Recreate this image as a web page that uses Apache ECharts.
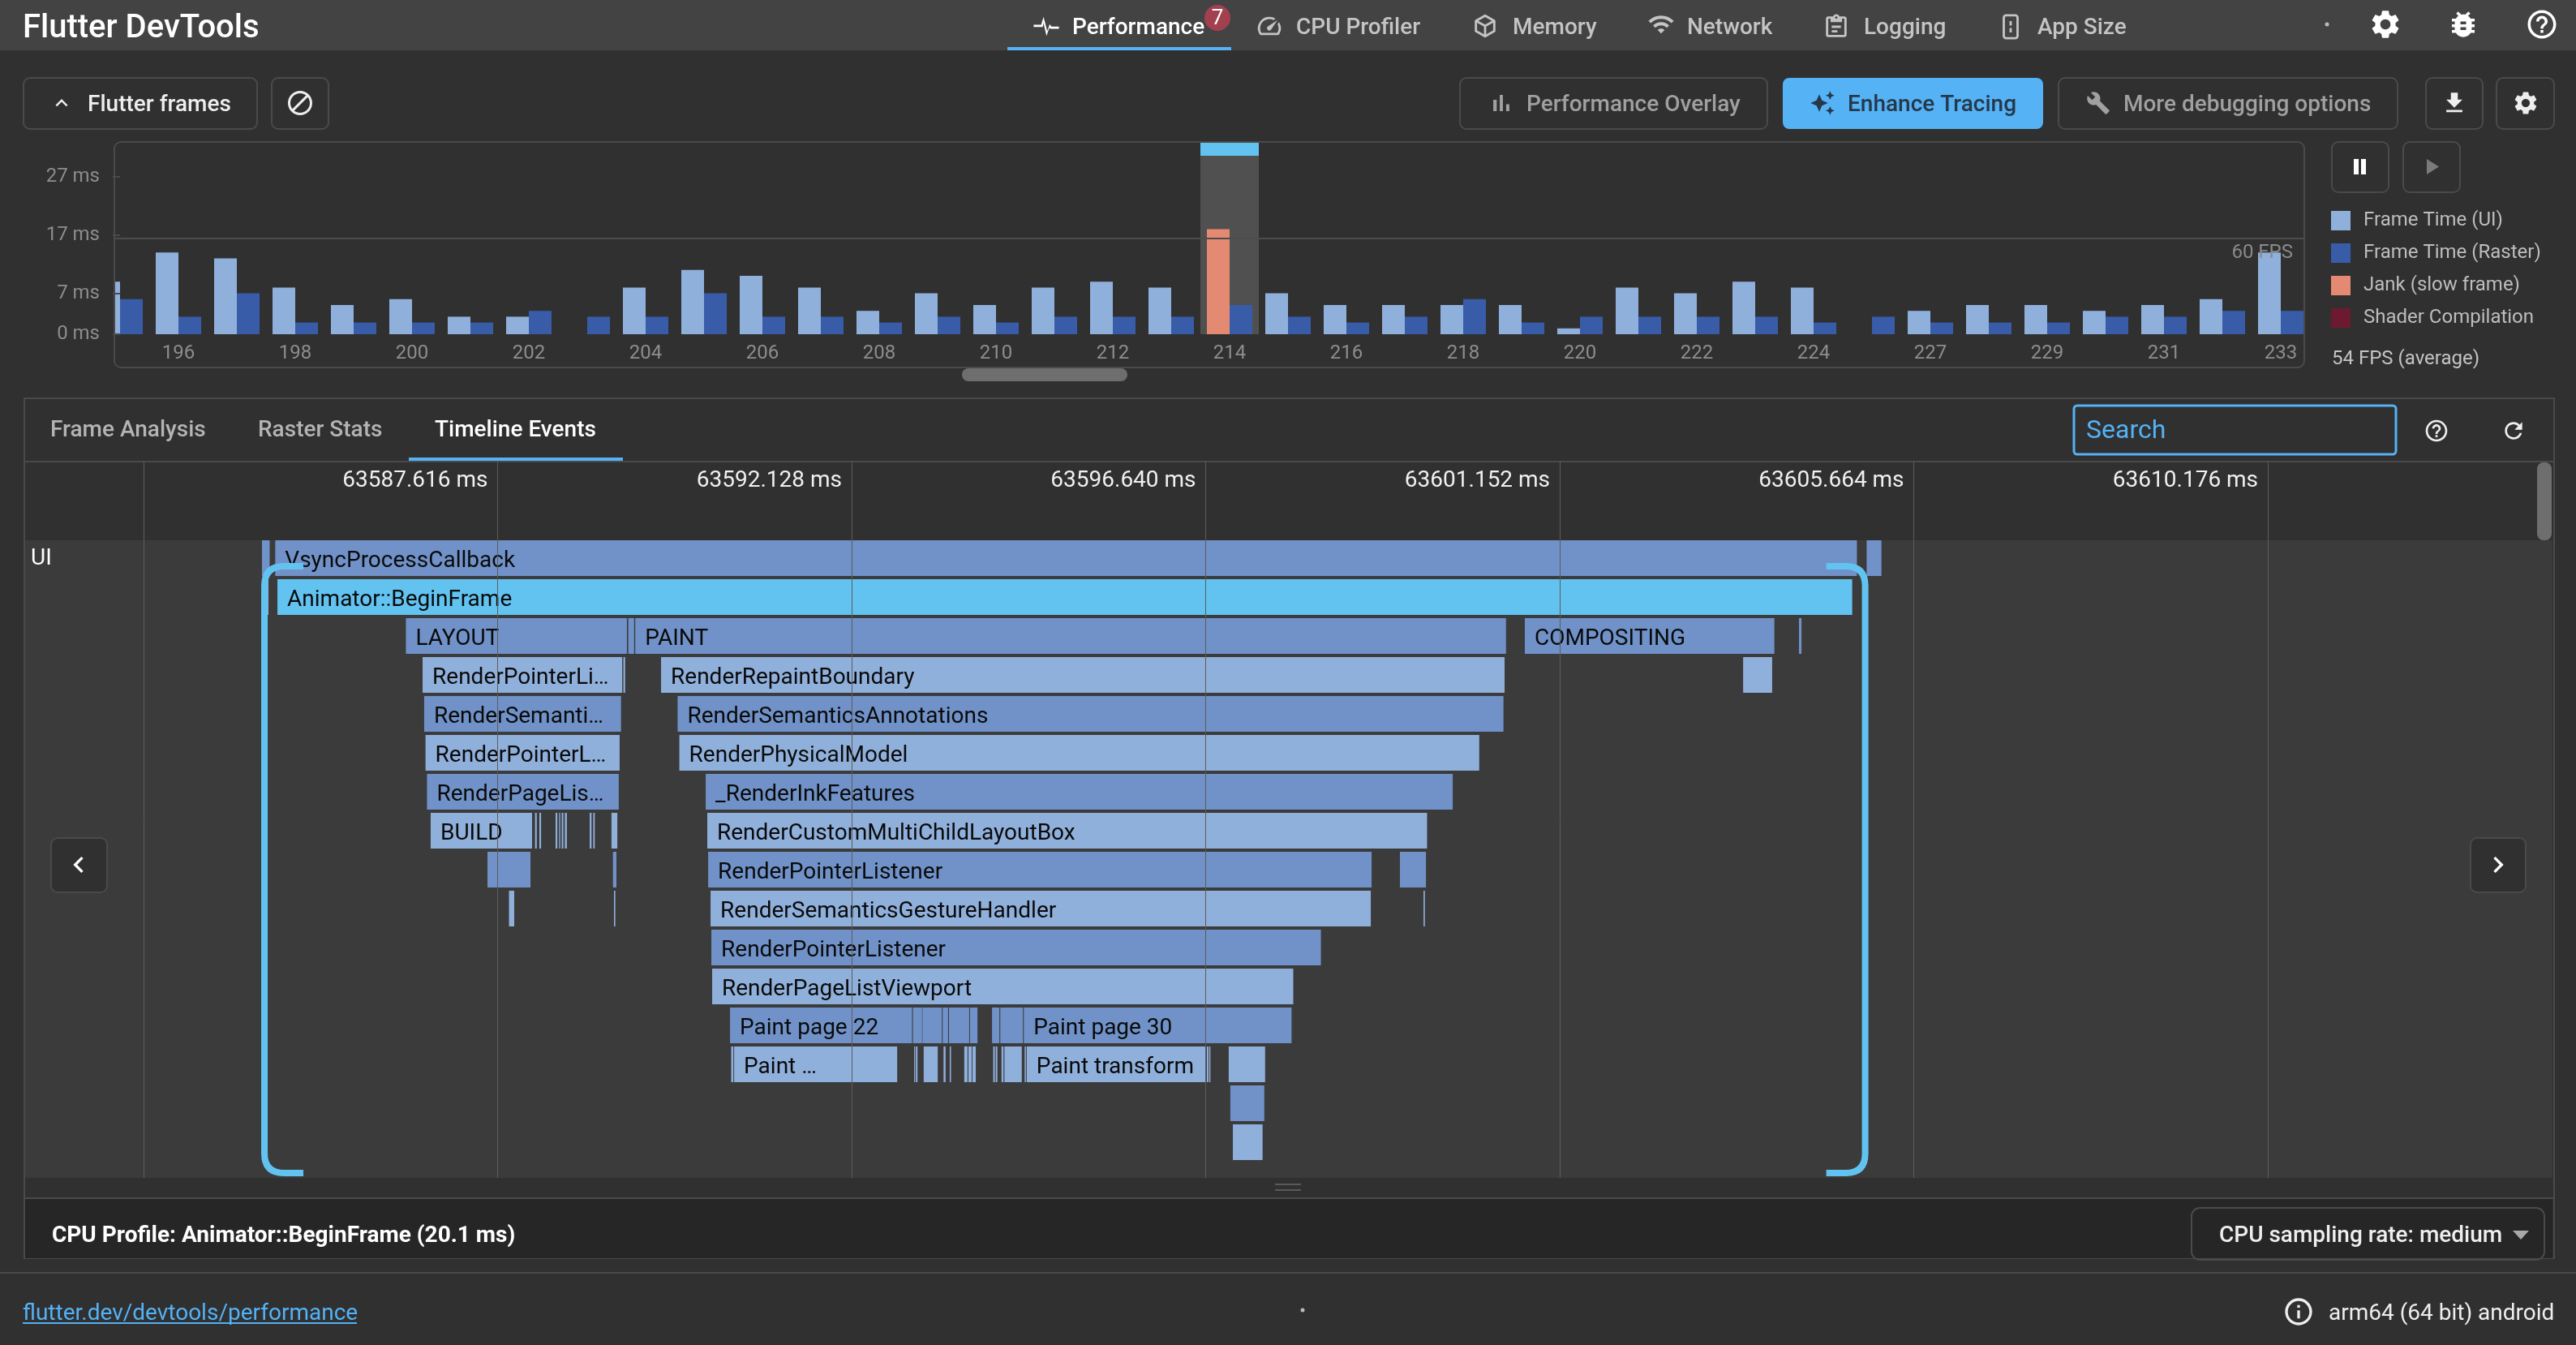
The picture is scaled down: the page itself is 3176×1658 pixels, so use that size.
<!DOCTYPE html>
<html><head><meta charset="utf-8"><title>Flutter DevTools</title>
<style>html,body{margin:0;padding:0;background:#303030}#c{width:3176px;height:1658px}</style>
<script src="https://cdn.jsdelivr.net/npm/echarts@6/dist/echarts.min.js"></script>
</head><body><div id="c"></div><script>
// ---------- frame chart data ----------
const frameNumbers = [195,196,197,198,199,200,201,202,203,204,205,206,207,208,209,210,211,212,213,214,215,216,217,218,219,220,221,222,223,224,226,227,228,229,230,231,232,233];
const uiMs         = [9,14,13,8,5,6,3,3,0,8,11,10,8,4,7,5,8,9,8,0,7,5,5,5,5,1,8,7,9,8,0,4,5,5,4,5,6,14];
const rasterMs     = [6,3,7,2,2,2,2,4,3,3,7,3,3,2,3,2,3,3,3,5,3,2,3,6,2,3,3,3,3,2,3,2,2,2,3,3,4,4];
const jankFrame = 214;
const jankMs = 18;
const yTickMs = [0,7,17,27];
const sixtyFpsLineMs = 16.4;
// ---------- timeline data (ms after timeOriginMs) ----------
const timeOriginMs = 63583.104;
const timeTickMs = 4.512;
const eventNames = [
 '','VsyncProcessCallback','',
 '','Animator::BeginFrame',
 'LAYOUT','','PAINT','COMPOSITING','',
 'RenderPointerLi…','','RenderRepaintBoundary','',
 'RenderSemanti…','RenderSemanticsAnnotations',
 'RenderPointerL…','RenderPhysicalModel',
 'RenderPageLis…','_RenderInkFeatures',
 'BUILD','','','','','','','','','','RenderCustomMultiChildLayoutBox',
 '','','RenderPointerListener','',
 '','','RenderSemanticsGestureHandler','',
 'RenderPointerListener',
 'RenderPageListViewport',
 'Paint page 22','','','','','','','','Paint page 30',
 '','Paint …','','','','','','','','','','','','','','Paint transform','','','',
 '',
 '' ];
const eventStart = [
 1.509,1.678,21.959,
 1.509,1.706,
 3.343,6.177,6.266,17.603,21.097,
 3.556,6.115,6.595,20.385,
 3.576,6.806,
 3.593,6.828,
 3.612,7.164,
 3.659,4.989,5.044,5.251,5.296,5.329,5.369,5.686,5.731,5.963,7.184,
 4.383,5.982,7.195,16.011,
 4.657,5.995,7.226,16.312,
 7.236,
 7.246,
 7.474,9.805,9.926,10.184,10.264,10.532,10.813,10.918,11.218,
 7.489,7.526,9.820,9.842,9.942,10.195,10.274,10.459,10.512,10.564,10.828,10.860,10.934,10.971,11.229,11.255,13.550,13.581,13.829,
 13.850,13.882 ];
const eventEnd = [
 1.607,21.835,22.148,
 1.592,21.775,
 6.160,6.252,17.363,20.783,21.129,
 6.100,6.137,17.345,20.755,
 6.085,17.331,
 6.067,17.022,
 6.056,16.684,
 4.951,5.011,5.066,5.273,5.310,5.350,5.395,5.709,5.750,6.038,16.357,
 4.931,6.026,15.650,16.343,
 4.724,6.012,15.640,16.329,
 15.004,
 14.652,
 9.794,9.921,10.174,10.253,10.522,10.628,10.907,11.207,14.630,
 7.516,9.604,9.832,9.863,10.121,10.221,10.290,10.501,10.554,10.606,10.849,10.881,10.959,11.192,11.245,13.534,13.571,13.596,14.293,
 14.283,14.261 ];
const eventRow = [
 0,0,0,
 1,1,
 2,2,2,2,2,
 3,3,3,3,
 4,4,
 5,5,
 6,6,
 7,7,7,7,7,7,7,7,7,7,7,
 8,8,8,8,
 9,9,9,9,
 10,
 11,
 12,12,12,12,12,12,12,12,12,
 13,13,13,13,13,13,13,13,13,13,13,13,13,13,13,13,13,13,13,
 14,15 ];
const selectedEvent = 'Animator::BeginFrame';
const timeAxisEndMs = 30.72;

const FONT = 'Roboto';
const C = {bg:'#303030', bar:'#434343', flame:'#3b3b3b', line:'#4a4a4a', blue:'#54b2f5', sel:'#62c3f1',
  mid:'#7092c8', light:'#90b0dc', ui:'#90b0dc', raster:'#395ca8', jank:'#e58a72', shader:'#6d1a30',
  dim:'#8d8d8d', nav:'#c4c4c4', btn:'#a0a0a0'};

const ICONS = {
 gear:'M19.14 12.94c.04-.3.06-.61.06-.94 0-.32-.02-.64-.07-.94l2.03-1.58c.18-.14.23-.41.12-.61l-1.92-3.32c-.12-.22-.37-.29-.59-.22l-2.39.96c-.5-.38-1.03-.7-1.62-.94l-.36-2.54c-.04-.24-.24-.41-.48-.41h-3.84c-.24 0-.43.17-.47.41l-.36 2.54c-.59.24-1.13.57-1.62.94l-2.39-.96c-.22-.08-.47 0-.59.22L2.74 8.87c-.12.21-.08.47.12.61l2.03 1.58c-.05.3-.09.63-.09.94s.02.64.07.94l-2.03 1.58c-.18.14-.23.41-.12.61l1.92 3.32c.12.22.37.29.59.22l2.39-.96c.5.38 1.03.7 1.62.94l.36 2.54c.05.24.24.41.48.41h3.84c.24 0 .44-.17.47-.41l.36-2.54c.59-.24 1.13-.56 1.62-.94l2.39.96c.22.08.47 0 .59-.22l1.92-3.32c.12-.22.07-.47-.12-.61l-2.01-1.58zM12 15.6c-1.98 0-3.6-1.62-3.6-3.6s1.62-3.6 3.6-3.6 3.6 1.62 3.6 3.6-1.62 3.6-3.6 3.6z',
 bug:'M20 8h-2.81c-.45-.78-1.07-1.45-1.82-1.96L17 4.41 15.59 3l-2.17 2.17C12.96 5.06 12.49 5 12 5c-.49 0-.96.06-1.41.17L8.41 3 7 4.41l1.62 1.63C7.88 6.55 7.26 7.22 6.81 8H4v2h2.09c-.05.33-.09.66-.09 1v1H4v2h2v1c0 .34.04.67.09 1H4v2h2.81c1.04 1.79 2.97 3 5.19 3s4.15-1.21 5.19-3H20v-2h-2.09c.05-.33.09-.66.09-1v-1h2v-2h-2v-1c0-.34-.04-.67-.09-1H20V8zm-6 8h-4v-2h4v2zm0-4h-4v-2h4v2z',
 help:'M11 18h2v-2h-2v2zm1-16C6.48 2 2 6.48 2 12s4.48 10 10 10 10-4.48 10-10S17.52 2 12 2zm0 18c-4.41 0-8-3.59-8-8s3.59-8 8-8 8 3.59 8 8-3.59 8-8 8zm0-14c-2.21 0-4 1.79-4 4h2c0-1.1.9-2 2-2s2 .9 2 2c0 2-3 1.75-3 5h2c0-2.25 3-2.5 3-5 0-2.21-1.79-4-4-4z',
 info:'M11 7h2v2h-2zm0 4h2v6h-2zm1-9C6.48 2 2 6.48 2 12s4.48 10 10 10 10-4.48 10-10S17.52 2 12 2zm0 18c-4.41 0-8-3.59-8-8s3.59-8 8-8 8 3.59 8 8-3.59 8-8 8z',
 download:'M19 9h-4V3H9v6H5l7 7 7-7zM5 18v2h14v-2H5z',
 wrench:'M22.7 19l-9.1-9.1c.9-2.3.4-5-1.5-6.9-2-2-5-2.4-7.4-1.3L9 6 6 9 1.6 4.7C.4 7.1.9 10.1 2.9 12.1c1.9 1.9 4.6 2.4 6.9 1.5l9.1 9.1c.4.4 1 .4 1.4 0l2.3-2.3c.5-.4.5-1.1.1-1.4z',
 refresh:'M17.65 6.35C16.2 4.9 14.21 4 12 4c-4.42 0-7.99 3.58-7.99 8s3.57 8 7.99 8c3.73 0 6.84-2.55 7.73-6h-2.08c-.82 2.33-3.04 4-5.65 4-3.31 0-6-2.69-6-6s2.69-6 6-6c1.66 0 3.14.69 4.22 1.78L13 11h7V4l-2.35 2.35z',
 block:'M12 2C6.48 2 2 6.48 2 12s4.48 10 10 10 10-4.48 10-10S17.52 2 12 2zM4 12c0-4.42 3.58-8 8-8 1.85 0 3.55.63 4.9 1.69L5.69 16.9C4.63 15.55 4 13.85 4 12zm8 8c-1.85 0-3.55-.63-4.9-1.69L18.31 7.1C19.37 8.45 20 10.15 20 12c0 4.42-3.58 8-8 8z',
 bars:'M5 9.2h3V19H5zM10.6 5h2.8v14h-2.8zm5.6 8H19v6h-2.8z',
 sparkle:'M19 9l1.25-2.75L23 5l-2.75-1.25L19 1l-1.25 2.75L15 5l2.75 1.25L19 9zm-7.5.5L9 4 6.5 9.5 1 12l5.5 2.5L9 20l2.5-5.5L17 12l-5.5-2.5zM19 15l-1.25 2.75L15 19l2.75 1.25L19 23l1.25-2.75L23 19l-2.75-1.25L19 15z',
 up:'M7.41 15.41L12 10.83l4.59 4.58L18 14l-6-6-6 6z',
 left:'M15.41 7.41L14 6l-6 6 6 6 1.41-1.41L10.83 12z',
 right:'M10 6L8.59 7.41 13.17 12l-4.58 4.59L10 18l6-6z',
 pulse:'M1 11h6.6L9.6 4l3.2 12.4 2.2-6 1.4 2.2H23v1.8h-7.6l-.7-1-2.5 7.2L9.5 9.4 8.9 12.8H1z',
 speed:'M20.38 8.57l-1.23 1.85a8 8 0 0 1-.22 7.58H5.07A8 8 0 0 1 15.58 6.85l1.85-1.23A10 10 0 0 0 3.35 19a2 2 0 0 0 1.72 1h13.85a2 2 0 0 0 1.74-1 10 10 0 0 0-.27-10.44zm-9.79 6.84a2 2 0 0 0 2.83 0l5.66-8.49-8.49 5.66a2 2 0 0 0 0 2.83z',
 box:'M21 16.5c0 .38-.21.71-.53.88l-7.9 4.44c-.16.12-.36.18-.57.18-.21 0-.41-.06-.57-.18l-7.9-4.44A.991.991 0 0 1 3 16.5v-9c0-.38.21-.71.53-.88l7.9-4.44c.16-.12.36-.18.57-.18.21 0 .41.06.57.18l7.9 4.44c.32.17.53.5.53.88v9zM12 4.15L6.04 7.5 12 10.85l5.96-3.35L12 4.15zM5 15.91l6 3.38v-6.71L5 9.21v6.7zm14 0v-6.7l-6 3.37v6.71l6-3.38z',
 wifi:'M1 9l2 2c4.97-4.97 13.03-4.97 18 0l2-2C16.93 2.93 7.08 2.93 1 9zm8 8l3 3 3-3c-1.65-1.66-4.34-1.66-6 0zm-4-4l2 2c2.76-2.76 7.24-2.76 10 0l2-2C15.14 9.14 8.87 9.14 5 13z',
 clip:'M19 3h-4.18C14.4 1.84 13.3 1 12 1c-1.3 0-2.4.84-2.82 2H5c-1.1 0-2 .9-2 2v14c0 1.1.9 2 2 2h14c1.1 0 2-.9 2-2V5c0-1.1-.9-2-2-2zm-7 0c.55 0 1 .45 1 1s-.45 1-1 1-1-.45-1-1 .45-1 1-1zm7 16H5V5h2v3h10V5h2v14zM8 11h8v2H8zm0 4h5v2H8z',
 phone:'M16 1H8C6.34 1 5 2.34 5 4v16c0 1.66 1.34 3 3 3h8c1.66 0 3-1.34 3-3V4c0-1.66-1.34-3-3-3zm1 19c0 .55-.45 1-1 1H8c-.55 0-1-.45-1-1V4c0-.55.45-1 1-1h8c.55 0 1 .45 1 1v16zM11 7h2v4h-2zm0 6h2v4h-2z'
};
Object.keys(ICONS).forEach(k => echarts.graphic.registerShape('ic_'+k, echarts.graphic.extendPath(ICONS[k])));

function R(x,y,w,h,o){o=o||{};return {type:'rect',silent:true,z:o.z==null?-1:o.z,shape:{x,y,width:w,height:h,r:o.r||0},style:{fill:o.fill||'transparent',stroke:o.stroke||null,lineWidth:o.lw||0}};}
function T(text,x,y,size,color,o){o=o||{};return {type:'text',silent:true,z:o.z==null?20:o.z,x,y:y+size*0.12,style:{text,fill:color,font:(o.weight||400)+' '+size+'px '+FONT,textAlign:o.align||'left',textVerticalAlign:'middle'}};}
function I(name,cx,cy,size,color,z){const s=size/24;return {type:'ic_'+name,silent:true,z:z==null?20:z,x:cx-size/2,y:cy-size/2,scaleX:s,scaleY:s,style:{fill:color}};}
function BTN(x,y,w,h,o){o=o||{};return R(x,y,w,h,{fill:o.fill||'transparent',stroke:C.line,lw:2,r:8,z:o.z==null?-1:o.z});}

const chrome = [
 // top bar
 R(0,0,3176,62,{fill:C.bar}),
 T('Flutter DevTools',28,31,40,'#fff',{weight:500}),
 R(1242,58,276,4,{fill:C.blue}),
 I('pulse',1290,32,34,'#fff'),
 T('Performance',1322,32,28,'#fff',{weight:500}),
 {type:'circle',silent:true,z:21,shape:{cx:1501,cy:22,r:16},style:{fill:'#a3404f'}},
 T('7',1501,20,26,'#fff',{align:'center',z:22}),
 I('speed',1565,32,34,C.nav), T('CPU Profiler',1598,32,28,C.nav,{weight:500}),
 I('box',1831,32,34,C.nav), T('Memory',1865,32,28,C.nav,{weight:500}),
 I('wifi',2048,30,34,C.nav), T('Network',2080,32,28,C.nav,{weight:500}),
 I('clip',2264,33,34,C.nav), T('Logging',2298,32,28,C.nav,{weight:500}),
 I('phone',2479,33,34,C.nav), T('App Size',2512,32,28,C.nav,{weight:500}),
 {type:'circle',silent:true,z:20,shape:{cx:2869,cy:30,r:2.5},style:{fill:'#bbb'}},
 I('gear',2941,30,42,'#fff'), I('bug',3037,30,42,'#fff'), I('help',3134,30,42,'#fff'),
 // toolbar
 BTN(29,96,288,63), I('up',76,127,30,'#eee'), T('Flutter frames',108,127,28,'#eee',{weight:500}),
 BTN(335,96,70,63), I('block',370,127,36,'#eee'),
 BTN(1800,96,379,63), I('bars',1851,127,34,C.btn), T('Performance Overlay',1882,127,28,C.btn,{weight:500}),
 R(2198,96,321,63,{fill:C.blue,r:8}), I('sparkle',2247,127,32,'#26384a'), T('Enhance Tracing',2278,127,28,'#26384a',{weight:500}),
 BTN(2538,96,418,63), I('wrench',2587,127,30,C.btn), T('More debugging options',2618,127,28,C.btn,{weight:500}),
 BTN(2991,96,70,63), I('download',3026,127,34,'#eee'),
 BTN(3078,96,71,63), I('gear',3114,127,34,'#eee'),
 // frame chart frame; the strip left of it hides the part of frame 195 scrolled out of view
 R(100,175,40,238,{fill:C.bg,z:3}),
 R(141,175,2700,278,{stroke:C.line,lw:2,r:8,z:4}),
 R(1186,454,204,16,{fill:'#6e6e6e',r:8}),
 BTN(2875,175,70,62), R(2902,196,6,19,{fill:'#fff',z:20}), R(2911,196,6,19,{fill:'#fff',z:20}),
 BTN(2963,175,70,62), {type:'polygon',silent:true,z:20,shape:{points:[[2992,196],[3007,205.5],[2992,215]]},style:{fill:'#7a7a7a'}},
 T('54 FPS (average)',2875,440,24,'#c4c4c4'),
 // analysis panel
 R(30,491,3119,1060,{stroke:C.line,lw:2}),
 T('Frame Analysis',62,528,28,'#b4b4b4',{weight:500}),
 T('Raster Stats',318,528,28,'#b4b4b4',{weight:500}),
 T('Timeline Events',536,528,28,'#fff',{weight:500}),
 R(504,564,264,4,{fill:C.blue}),
 R(30,568,3119,2,{fill:C.line}),
 R(2557,500,397,60,{stroke:C.blue,lw:3,r:4}),
 T('Search',2572,528,32,C.blue),
 I('help',3004,531,32,'#eee'), I('refresh',3099,531,32,'#eee'),
 // flame area background
 R(31,666,3116,786,{fill:C.flame}),
 R(3128,570,18,96,{fill:'#6e6e6e',r:8,z:20}),
 T('UI',38,686,28,'#fff'),
 BTN(63,1033,69,67,{fill:C.bg,z:20}), I('left',97,1066,40,'#fff',21),
 BTN(3046,1033,68,67,{fill:C.bg,z:20}), I('right',3080,1066,40,'#fff',21),
 R(1572,1459,32,2,{fill:'#5a5a5a'}), R(1572,1466,32,2,{fill:'#5a5a5a'}),
 // cpu profile panel
 R(31,1477,3116,74,{fill:'#262626'}),
 R(30,1476,3119,2,{fill:C.line}),
 T('CPU Profile: Animator::BeginFrame (20.1 ms)',64,1521,28,'#fff',{weight:700}),
 R(2702,1489,435,64,{stroke:C.line,lw:2,r:10}),
 T('CPU sampling rate: medium',2736,1521,28,'#eee',{weight:500}),
 {type:'polygon',silent:true,z:20,shape:{points:[[3098,1517],[3118,1517],[3108,1528]]},style:{fill:'#a8a8a8'}},
 // status bar
 R(0,1568,3176,2,{fill:C.line}),
 T('flutter.dev/devtools/performance',28,1617,28,C.blue),
 R(28,1630,412,2,{fill:C.blue,z:20}),
 {type:'circle',silent:true,z:20,shape:{cx:1606,cy:1615,r:2.5},style:{fill:'#bbb'}},
 I('info',2834,1617,40,'#eee'),
 T('arm64 (64 bit) android',2871,1617,28,'#eee',{weight:400})
];

const jankIndex = frameNumbers.indexOf(jankFrame);
const pairs = arr => arr.map((v,i)=>[i,v]);

function renderEvent(params, api){
  const a=api.coord([api.value(0),api.value(2)]), b=api.coord([api.value(1),api.value(2)]);
  const name=eventNames[params.dataIndex], row=api.value(2);
  const pitch=api.size([0,1])[1];
  const fill = name===selectedEvent ? C.sel : (row%2 ? C.light : C.mid);
  const kids=[{type:'rect',shape:{x:a[0],y:a[1],width:b[0]-a[0],height:pitch-4},style:{fill}}];
  if(name) kids.push({type:'text',x:a[0]+12,y:a[1]+(pitch-4)/2+3.5,style:{text:name,fill:'#0a0a0a',font:'400 28px '+FONT,textAlign:'left',textVerticalAlign:'middle'}});
  return {type:'group',children:kids};
}
function renderBracket(params, api){
  const row=api.value(2), L=api.coord([api.value(0),row])[0]-16, Rt=api.coord([api.value(1),row])[0]+16;
  const T0=api.coord([api.value(0),0])[1]+32, B=params.coordSys.y+params.coordSys.height-6, arm=48, r=24;
  const style={fill:'none',stroke:C.sel,lineWidth:8};
  return {type:'group',children:[
    {type:'path',shape:{pathData:`M${L+arm} ${T0}H${L+r}Q${L} ${T0} ${L} ${T0+r}V${B-r}Q${L} ${B} ${L+r} ${B}H${L+arm}`,x:L,y:T0,width:arm,height:B-T0,layout:'cover'},style},
    {type:'path',shape:{pathData:`M${Rt-arm} ${T0}H${Rt-r}Q${Rt} ${T0} ${Rt} ${T0+r}V${B-r}Q${Rt} ${B} ${Rt-r} ${B}H${Rt-arm}`,x:Rt-arm,y:T0,width:arm,height:B-T0,layout:'cover'},style}
  ]};
}
const eventData = eventStart.map((s,i)=>[s,eventEnd[i],eventRow[i]]);
const selIdx = eventNames.indexOf(selectedEvent);

const chart = echarts.init(document.getElementById('c'),null,{renderer:'canvas',width:3176,height:1658});
chart.setOption({
  animation:false, backgroundColor:C.bg, textStyle:{fontFamily:FONT},
  graphic:{elements:chrome},
  legend:{orient:'vertical',left:2874,top:260,padding:0,itemWidth:24,itemHeight:24,itemGap:16,selectedMode:false,icon:'rect',
    data:['Frame Time (UI)','Frame Time (Raster)','Jank (slow frame)','Shader Compilation'],
    textStyle:{color:'#bdbdbd',fontSize:24,fontFamily:FONT,padding:[4,0,0,11]}},
  grid:[{left:141,top:175,width:2700,height:237,containLabel:false},
        {left:177,top:569,width:2972,height:883,containLabel:false}],
  xAxis:[
    {gridIndex:0,type:'value',min:-7/72,max:2693/72,splitLine:{show:false},axisLine:{show:false},axisTick:{show:false},
     axisLabel:{color:C.dim,fontSize:24,fontFamily:FONT,margin:12,
       customValues:frameNumbers.map((n,i)=>i).filter(i=>i%2===1),
       formatter:v=>String(frameNumbers[v])}},
    {gridIndex:1,type:'value',position:'top',z:10,min:0,max:timeAxisEndMs,interval:timeTickMs,
     axisLine:{show:false},axisTick:{show:false},
     splitLine:{show:true,showMinLine:true,showMaxLine:false,lineStyle:{color:'#5c5c5c',width:1}},
     axisLabel:{inside:true,margin:10,showMinLabel:false,showMaxLabel:false,color:'#f0f0f0',fontSize:28,fontFamily:FONT,align:'right',padding:[0,12,0,0],
       formatter:v=>(timeOriginMs+v).toFixed(3)+' ms'}}
  ],
  yAxis:[
    {gridIndex:0,type:'value',z:6,min:0,max:237/7.2,splitLine:{show:false},axisLine:{show:false},
     axisTick:{show:true,length:9,customValues:yTickMs,lineStyle:{color:C.line,width:2}},
     axisLabel:{color:C.dim,fontSize:24,fontFamily:FONT,margin:18,customValues:yTickMs,formatter:v=>v+' ms'}},
    {gridIndex:1,type:'value',show:false,inverse:true,min:-97/48,max:786/48}
  ],
  series:[
    {type:'line',name:'selection',xAxisIndex:0,yAxisIndex:0,data:[],silent:true,z:1,
     markArea:{silent:true,z:1,itemStyle:{color:'#4f504f'},label:{show:false},
       data:[[{xAxis:jankIndex-0.5,yAxis:0},{xAxis:jankIndex+0.5,yAxis:220/7.2}],
             [{xAxis:jankIndex-0.5,yAxis:220/7.2,itemStyle:{color:C.sel}},{xAxis:jankIndex+0.5,yAxis:236/7.2}]]},
     markLine:{silent:true,z:6,symbol:'none',precision:3,
       lineStyle:{color:'#4c4c4c',width:2,type:'solid'},
       label:{show:true,position:'insideEndBottom',formatter:'60 FPS',color:'#8a8a8a',fontSize:24,fontFamily:FONT,distance:[14,6]},
       data:[{yAxis:sixtyFpsLineMs}]}},
    {type:'bar',name:'Frame Time (UI)',xAxisIndex:0,yAxisIndex:0,stack:'ui',barWidth:28,barGap:0,z:2,silent:true,
     itemStyle:{color:C.ui},data:pairs(uiMs)},
    {type:'bar',name:'Frame Time (Raster)',xAxisIndex:0,yAxisIndex:0,stack:'raster',barWidth:28,barGap:0,z:2,silent:true,
     itemStyle:{color:C.raster},data:pairs(rasterMs)},
    {type:'bar',name:'Jank (slow frame)',xAxisIndex:0,yAxisIndex:0,stack:'ui',barWidth:28,barGap:0,z:2,silent:true,
     itemStyle:{color:C.jank},data:[[jankIndex,jankMs]]},
    {type:'bar',name:'Shader Compilation',xAxisIndex:0,yAxisIndex:0,stack:'ui',barWidth:28,barGap:0,z:2,silent:true,
     itemStyle:{color:C.shader},data:[]},
    {type:'custom',name:'events',xAxisIndex:1,yAxisIndex:1,z:2,silent:true,clip:false,renderItem:renderEvent,
     encode:{x:[0,1],y:2},data:eventData},
    {type:'custom',name:'selectionBracket',xAxisIndex:1,yAxisIndex:1,z:12,silent:true,clip:false,renderItem:renderBracket,
     encode:{x:[0,1],y:2},data:[eventData[selIdx]]}
  ]
});
</script></body></html>
